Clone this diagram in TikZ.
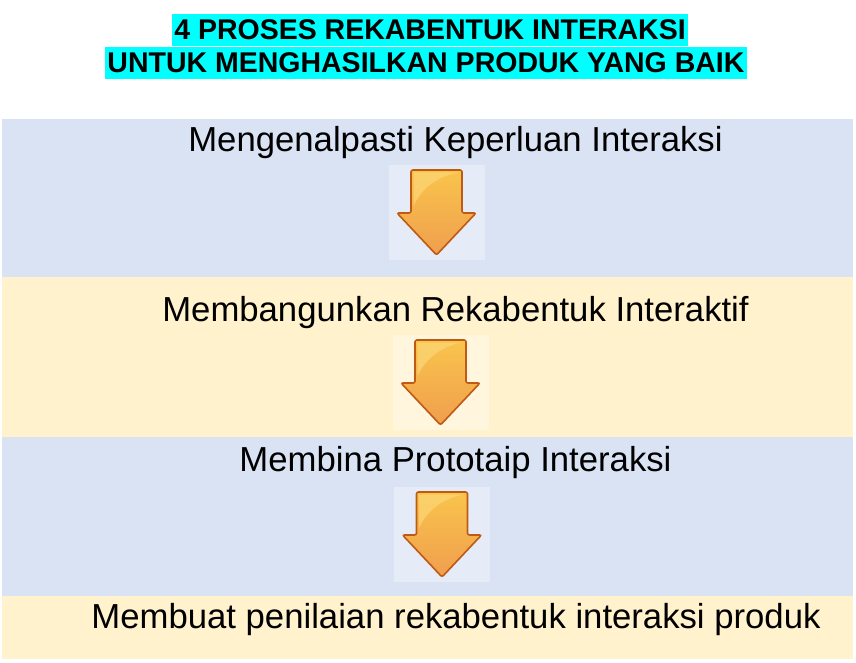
\documentclass[tikz,border=0pt]{standalone}
\usepackage{fontspec}
\setmainfont{Liberation Sans}
\usepackage{xcolor}
\usepackage{tikz}
\usetikzlibrary{backgrounds}
\definecolor{bandblue}{RGB}{218, 227, 243}
\definecolor{bandcream}{RGB}{255, 242, 204}
\definecolor{titlecyan}{RGB}{0, 255, 255}
\definecolor{arrowtop}{RGB}{249, 196, 76}
\definecolor{arrowbottom}{RGB}{240, 158, 78}
\definecolor{arrowedge}{RGB}{190, 90, 20}
\definecolor{arrowlight}{RGB}{252, 215, 120}

\tikzset{
    titleline/.style={fill=titlecyan, inner xsep=2pt, inner ysep=0pt, text height=26pt, text depth=6pt, anchor=base, font=\bfseries\fontsize{28.5}{28.5}\selectfont},
    steptext/.style={anchor=base, inner sep=0pt, font=\fontsize{34.7}{34.7}\selectfont},
    blockarrow/.pic={
        % speckled backing
        \fill[white, opacity=0.35] (-48,-5) rectangle (48,90);
        \shade[top color=arrowtop, bottom color=arrowbottom, draw=arrowedge, line width=1.6pt, rounded corners=2pt]
            (-25.5,0) -- (25.5,0) -- (25.5,43) -- (39.5,43) -- (0,85) -- (-39.5,43) -- (-25.5,43) -- cycle;
        \fill[arrowlight, opacity=0.7] (-23,2.5) -- (21,2.5) .. controls (4,6) and (-14,16) .. (-23,36) -- cycle;
    }
}

\begin{document}
\begin{tikzpicture}[x=1pt, y=-1pt]
    \useasboundingbox (0,0) rectangle (856,663);
    \fill[white] (0,0) rectangle (856,663);

    % bands
    \fill[bandblue] (2,119) rectangle (853,277);
    \fill[bandcream] (2,277) rectangle (853,437);
    \fill[bandblue] (2,437) rectangle (853,596);
    \fill[bandcream] (2,596) rectangle (853,659);

    % title
    \node[titleline] (title1) at (430,40) {4 PROSES REKABENTUK INTERAKSI};
    \node[titleline] (title2) at (426,73) {UNTUK MENGHASILKAN PRODUK YANG BAIK};

    % steps
    \node[steptext] (step1) at (455.5,152) {Mengenalpasti Keperluan Interaksi};
    \node[steptext] (step2) at (455.5,321) {Membangunkan Rekabentuk Interaktif};
    \node[steptext] (step3) at (455.5,471) {Membina Prototaip Interaksi};
    \node[steptext] (step4) at (456,628) {Membuat penilaian rekabentuk interaksi produk};

    % arrows between steps
    \pic at (436.5,170) {blockarrow};
    \pic at (440.5,340) {blockarrow};
    \pic at (442,492) {blockarrow};
\end{tikzpicture}
\end{document}
